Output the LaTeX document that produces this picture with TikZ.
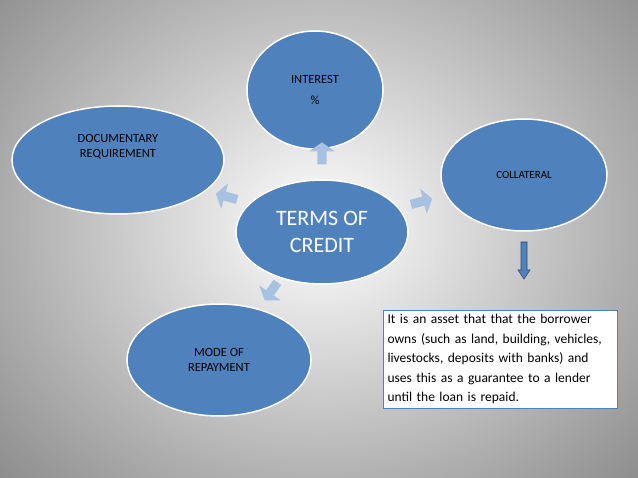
\documentclass[tikz,border=0pt]{standalone}
\usepackage{fontspec}
\setmainfont{Carlito}
\usetikzlibrary{shapes.arrows,shapes.geometric}
\definecolor{bl}{HTML}{4F81BD}
\definecolor{lb}{HTML}{A9C1E0}
\tikzset{
 ell/.style={ellipse, draw=white, line width=1.5pt, fill=bl, align=center, inner sep=0pt, font=\fontsize{12.5}{15}\selectfont},
 blk/.style={single arrow, fill=lb, draw=none, minimum height=22pt, minimum width=26pt, single arrow head extend=4pt, inner sep=2pt, single arrow tip angle=110}
}
\begin{document}
\begin{tikzpicture}[x=1pt,y=-1pt]
\useasboundingbox (0,0) rectangle (638,478);
\shade[inner color=white, outer color=black!45] (-120,-150) rectangle (760,600);
\node[ell, minimum width=172pt, minimum height=104pt, font=\fontsize{22}{27}\selectfont, text=white] (c) at (322,232) {TERMS OF\\CREDIT};
\node[ell, minimum width=136pt, minimum height=118pt] (i) at (315,90) {INTEREST\\[6pt]\%};
\node[ell, minimum width=212pt, minimum height=108pt] (d) at (118,160) {DOCUMENTARY\\REQUIREMENT\\[14pt]};
\node[ell, minimum width=166pt, minimum height=112pt, font=\fontsize{11}{13}\selectfont] (k) at (524,175) {COLLATERAL};
\node[ell, minimum width=184pt, minimum height=112pt] (m) at (219,360) {MODE OF\\REPAYMENT};
\node[blk, rotate=90] (a1) at (322,155) {};
\node[blk, rotate=165] (a2) at (228,197) {};
\node[blk, rotate=15] (a3) at (420,202) {};
\node[blk, rotate=235] (a4) at (272,290) {};
\draw[draw=bl!60!black, fill=bl, line width=0.6pt] (521,242) -- (527,242) -- (527,270) -- (530,270) -- (524,279) -- (518,270) -- (521,270) -- cycle;
\node[draw=bl, line width=1pt, fill=white, text width=226pt, align=left, inner sep=4pt, font=\fontsize{13.5}{19.5}\selectfont, anchor=north west] (t) at (383,310) {It is an asset that that the borrower owns (such as land, building, vehicles, livestocks, deposits with banks) and uses this as a guarantee to a lender until the loan is repaid.};
\end{tikzpicture}
\end{document}
